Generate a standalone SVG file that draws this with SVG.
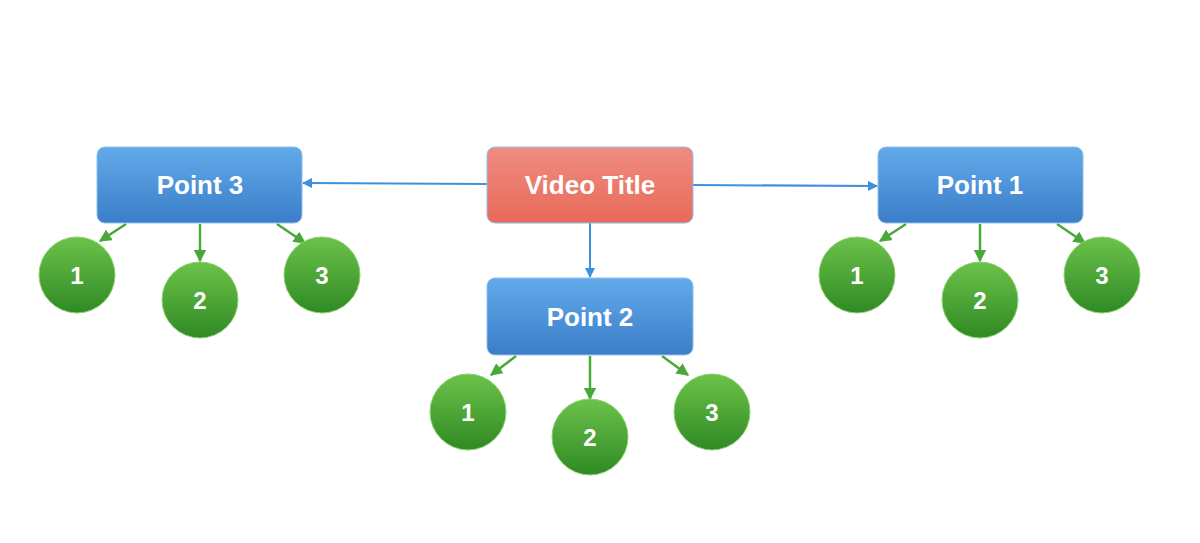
<svg xmlns="http://www.w3.org/2000/svg" width="1200" height="543" viewBox="0 0 1200 543">
<defs>
<linearGradient id="gb" x1="0" y1="0" x2="0" y2="1"><stop offset="0" stop-color="#62aaea"/><stop offset="1" stop-color="#3b7ec8"/></linearGradient>
<linearGradient id="gr" x1="0" y1="0" x2="0" y2="1"><stop offset="0" stop-color="#ee8c82"/><stop offset="1" stop-color="#e96a58"/></linearGradient>
<linearGradient id="gg" x1="0" y1="0" x2="0" y2="1"><stop offset="0" stop-color="#6cc24a"/><stop offset="1" stop-color="#2f8a24"/></linearGradient>
<marker id="ab" viewBox="0 0 10 10" refX="9" refY="5" markerWidth="5" markerHeight="5" orient="auto"><path d="M0,0L10,5L0,10z" fill="#3d8fe0"/></marker>
<marker id="ag" viewBox="0 0 10 10" refX="9" refY="5" markerWidth="5" markerHeight="5" orient="auto"><path d="M0,0L10,5L0,10z" fill="#4aa83a"/></marker>
<style>
.box{stroke:#8fc0ee;stroke-width:1}
.t{font-family:"Liberation Sans",Arial,sans-serif;font-weight:bold;fill:#fff;text-anchor:middle}
.bl{stroke:#3d8fe0;stroke-width:2;fill:none;marker-end:url(#ab)}
.gl{stroke:#4aa83a;stroke-width:2.5;fill:none;marker-end:url(#ag)}
.c{fill:url(#gg);stroke:#8cd070;stroke-width:1}
</style>
</defs>
<rect width="1200" height="543" fill="#fff"/>
<g id="connectors">
<path class="bl" d="M487,184L303,183"/>
<path class="bl" d="M693,185L877,186"/>
<path class="bl" d="M590,223L590,277"/>
<path class="gl" d="M126,224L100,241"/><path class="gl" d="M200,224L200,261"/><path class="gl" d="M277,224L305,243"/>
<path class="gl" d="M516,356L491,375"/><path class="gl" d="M590,356L590,399"/><path class="gl" d="M662,356L688,375"/>
<path class="gl" d="M906,224L880,241"/><path class="gl" d="M980,224L980,261"/><path class="gl" d="M1057,224L1085,243"/>
</g>
<g id="video-title"><rect class="box" x="487" y="147" width="206" height="76" rx="8" fill="url(#gr)" stroke="#f2aaa2"/><text class="t" x="590" y="194" font-size="26">Video Title</text></g>
<g id="point3"><rect class="box" x="97" y="147" width="205" height="76" rx="8" fill="url(#gb)"/><text class="t" x="200" y="194" font-size="26">Point 3</text></g>
<g id="point1"><rect class="box" x="878" y="147" width="205" height="76" rx="8" fill="url(#gb)"/><text class="t" x="980" y="194" font-size="26">Point 1</text></g>
<g id="point2"><rect class="box" x="487" y="278" width="206" height="77" rx="8" fill="url(#gb)"/><text class="t" x="590" y="326" font-size="26">Point 2</text></g>
<g id="p3c1"><circle class="c" cx="77" cy="275" r="38"/><text class="t" x="77" y="284" font-size="24">1</text></g>
<g id="p3c2"><circle class="c" cx="200" cy="300" r="38"/><text class="t" x="200" y="309" font-size="24">2</text></g>
<g id="p3c3"><circle class="c" cx="322" cy="275" r="38"/><text class="t" x="322" y="284" font-size="24">3</text></g>
<g id="p2c1"><circle class="c" cx="468" cy="412" r="38"/><text class="t" x="468" y="421" font-size="24">1</text></g>
<g id="p2c2"><circle class="c" cx="590" cy="437" r="38"/><text class="t" x="590" y="446" font-size="24">2</text></g>
<g id="p2c3"><circle class="c" cx="712" cy="412" r="38"/><text class="t" x="712" y="421" font-size="24">3</text></g>
<g id="p1c1"><circle class="c" cx="857" cy="275" r="38"/><text class="t" x="857" y="284" font-size="24">1</text></g>
<g id="p1c2"><circle class="c" cx="980" cy="300" r="38"/><text class="t" x="980" y="309" font-size="24">2</text></g>
<g id="p1c3"><circle class="c" cx="1102" cy="275" r="38"/><text class="t" x="1102" y="284" font-size="24">3</text></g>
</svg>
